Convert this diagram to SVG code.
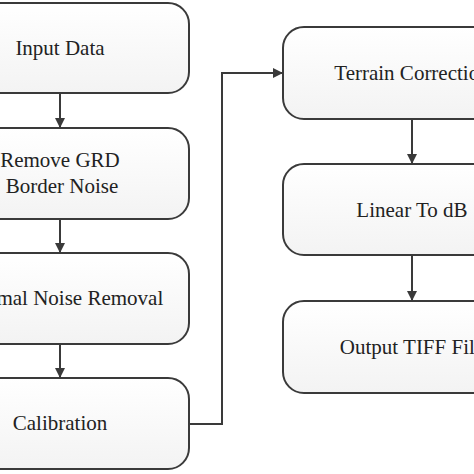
<svg xmlns="http://www.w3.org/2000/svg" width="474" height="474" viewBox="0 0 474 474">
<defs>
<linearGradient id="g" x1="0" y1="0" x2="0" y2="1">
<stop offset="0" stop-color="#ffffff"/>
<stop offset="1" stop-color="#f3f3f3"/>
</linearGradient>
<marker id="arr" viewBox="0 0 10 10" refX="10" refY="5" markerWidth="5" markerHeight="5" orient="auto" markerUnits="strokeWidth">
<path d="M0,0 L10,5 L0,10 z" fill="#3a3a3a"/>
</marker>
<style>
.box{fill:url(#g);stroke:#3a3a3a;stroke-width:2}
.t{font-family:"Liberation Serif","Times New Roman",serif;font-size:21px;fill:#222;text-anchor:middle}
.c{fill:none;stroke:#3a3a3a;stroke-width:2;marker-end:url(#arr)}
</style>
</defs>
<rect width="474" height="474" fill="#ffffff"/>
<g id="n1"><rect class="box" x="-69" y="3" width="258" height="90" rx="21"/><text class="t" x="60" y="55">Input Data</text></g>
<g id="n2"><rect class="box" x="-69" y="128" width="258" height="91" rx="21"/><text class="t" x="60" y="167">Remove GRD</text><text class="t" x="62" y="193">Border Noise</text></g>
<g id="n3"><rect class="box" x="-69" y="253" width="258" height="91" rx="21"/><text class="t" x="60" y="305">Thermal Noise Removal</text></g>
<g id="n4"><rect class="box" x="-69" y="378" width="258" height="91" rx="21"/><text class="t" x="60" y="430">Calibration</text></g>
<g id="n5"><rect class="box" x="283" y="27" width="258" height="92" rx="21"/><text class="t" x="412" y="80">Terrain Correction</text></g>
<g id="n6"><rect class="box" x="283" y="164" width="258" height="91" rx="21"/><text class="t" x="412" y="217">Linear To dB</text></g>
<g id="n7"><rect class="box" x="283" y="301" width="258" height="92" rx="21"/><text class="t" x="412" y="354">Output TIFF File</text></g>
<g id="connectors">
<line class="c" x1="60" y1="93" x2="60" y2="128"/>
<line class="c" x1="60" y1="219" x2="60" y2="253"/>
<line class="c" x1="60" y1="344" x2="60" y2="378"/>
<polyline class="c" points="189,424 222,424 222,73 283,73"/>
<line class="c" x1="412" y1="119" x2="412" y2="164"/>
<line class="c" x1="412" y1="255" x2="412" y2="301"/>
</g>
</svg>
